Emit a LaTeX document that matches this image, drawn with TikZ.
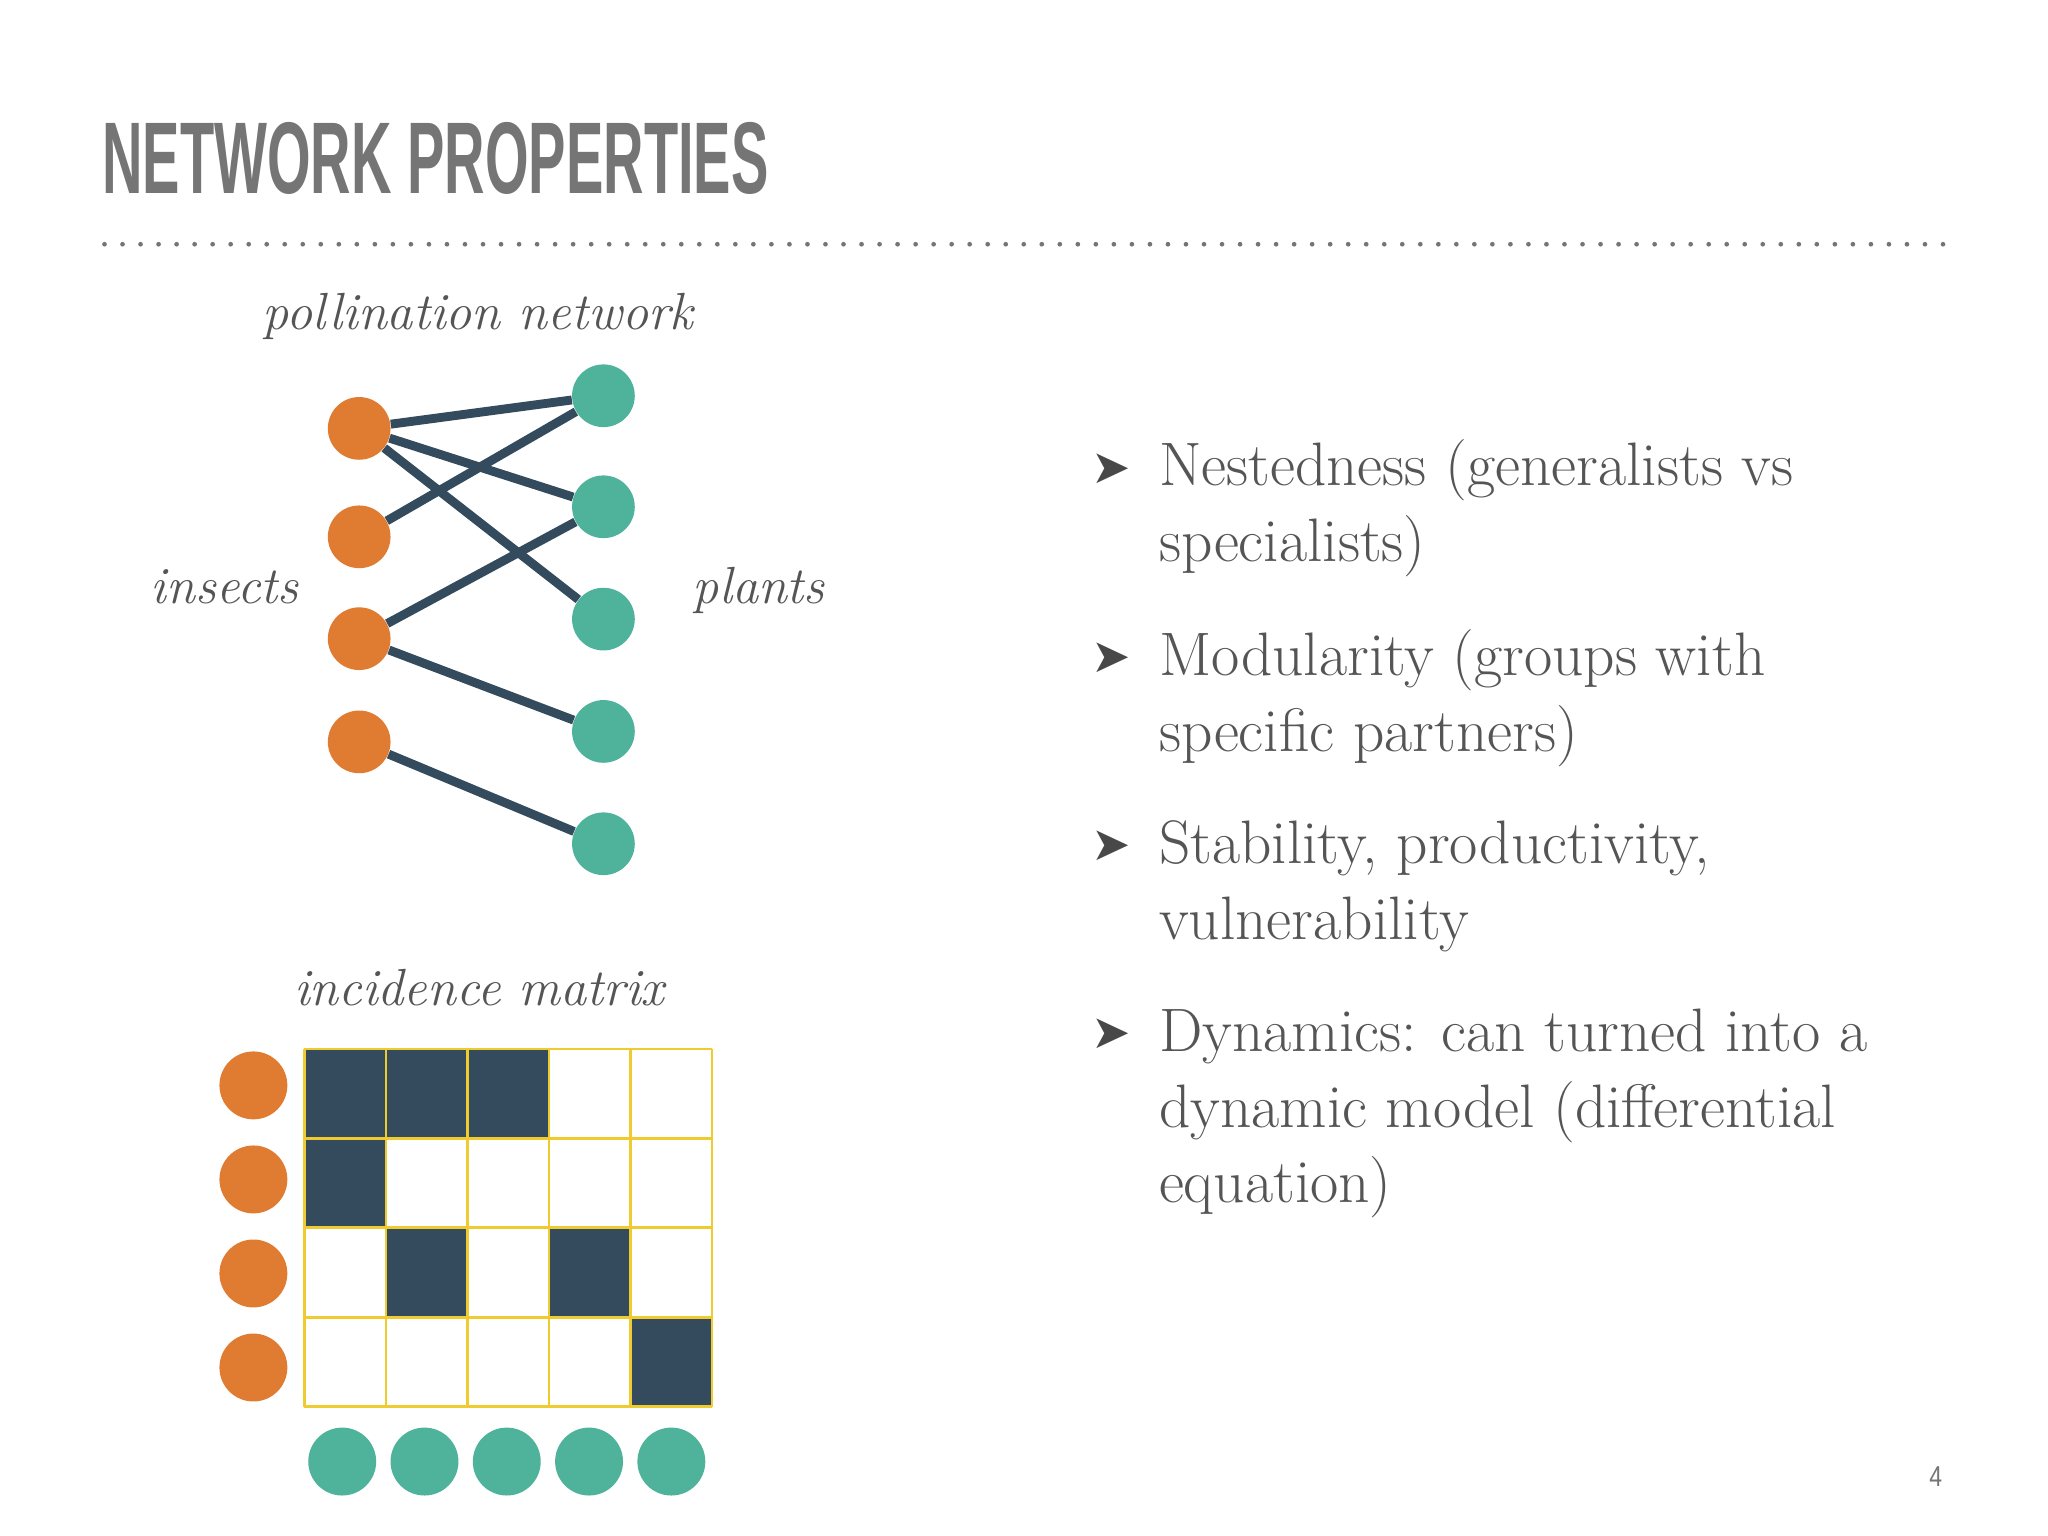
\documentclass[tikz,border=0pt]{standalone}
\usepackage{fontspec}
\usepackage{xcolor}
\usepackage{tikz}
\usetikzlibrary{positioning,calc}
\newfontfamily\titlefont{Liberation Sans}[FakeStretch=0.55]
\newfontfamily\numfont{Liberation Sans}[FakeStretch=0.8]
\newfontfamily\symfont{DejaVu Sans}
\definecolor{insectcol}{RGB}{224,123,50}
\definecolor{plantcol}{RGB}{79,179,156}
\definecolor{linkcol}{RGB}{52,75,93}
\definecolor{gridcol}{RGB}{240,203,48}
\definecolor{headcol}{RGB}{117,117,117}
\definecolor{bodycol}{RGB}{85,85,85}

\begin{document}
\begin{tikzpicture}[x=0.5pt,y=0.5pt,
    bug/.style={circle,fill=insectcol,inner sep=0pt,minimum size=24pt},
    flower/.style={circle,fill=plantcol,inner sep=0pt,minimum size=24pt},
    bigbug/.style={bug,minimum size=26pt},
    bigflower/.style={flower,minimum size=26pt},
    linkline/.style={draw=linkcol,line width=3.4pt},
    lbl/.style={font=\fontsize{20}{24}\selectfont\itshape,text=bodycol,inner sep=0pt,anchor=base},
    arrowmark/.style={font=\symfont\fontsize{18}{20}\selectfont,text=bodycol!85!black,inner sep=0pt,anchor=base west},
    itemtext/.style={font=\fontsize{23.5}{29}\selectfont,text=bodycol,align=left,inner sep=0pt,anchor=base west}]
    % Fondo y marco de la diapositiva.
    \fill[white] (0,0) rectangle (1568,-1176);
    \useasboundingbox (0,0) rectangle (1568,-1176);

    % Encabezado.
    \node[anchor=base west,inner sep=0pt,text=headcol,font=\titlefont\bfseries\fontsize{39}{40}\selectfont] (title) at (78,-148) {NETWORK PROPERTIES};
    \draw[headcol,line width=1.8pt,line cap=round,dash pattern=on 0pt off 6.9pt] (80,-187) -- (1490,-187);

    % Red de polinizacion.
    \node[lbl] (pollhead) at (366,-252) {pollination network};
    \foreach \i/\y in {1/328,2/411,3/489,4/568}{
      \node[bug] (o\i) at (275,-\y) {};
    }
    \foreach \i/\y in {1/303,2/388,3/474,4/560,5/646}{
      \node[flower] (p\i) at (462,-\y) {};
    }
    \foreach \a/\b in {o1/p1,o1/p2,o1/p3,o2/p1,o3/p2,o3/p4,o4/p5}{
      \draw[linkline] (\a) -- (\b);
    }
    \node[lbl] (insects) at (172,-462) {insects};
    \node[lbl] (plants) at (581,-462) {plants};

    % Matriz de incidencia.
    \node[lbl] (mathead) at (367,-770) {incidence matrix};
    \foreach \r/\c in {1/1,1/2,1/3,2/1,3/2,3/4,4/5}{
      \pgfmathsetmacro{\xa}{233+62.4*(\c-1)}
      \pgfmathsetmacro{\ya}{-803-68.5*(\r-1)}
      \fill[linkcol] (\xa,\ya) rectangle ++(62.4,-68.5);
    }
    \foreach \c in {0,...,5}{
      \pgfmathsetmacro{\xx}{233+62.4*\c}
      \draw[gridcol,line width=1pt] (\xx,-803) -- (\xx,-1077);
    }
    \foreach \r in {0,...,4}{
      \pgfmathsetmacro{\yy}{-803-68.5*\r}
      \draw[gridcol,line width=1pt] (233,\yy) -- (545,\yy);
    }
    \foreach \i in {1,...,4}{
      \pgfmathsetmacro{\yy}{-831-72*(\i-1)}
      \node[bigbug] (row\i) at (194,\yy) {};
    }
    \foreach \i in {1,...,5}{
      \pgfmathsetmacro{\xx}{262+63*(\i-1)}
      \node[bigflower] (col\i) at (\xx,-1119) {};
    }

    % Lista de propiedades (el ancla base cae en la ultima linea).
    \node[arrowmark] (m1) at (835,-370) {➤};
    \node[itemtext] (t1) at (887,-430) {Nestedness (generalists vs\\specialists)};
    \node[arrowmark] (m2) at (835,-515) {➤};
    \node[itemtext] (t2) at (887,-575) {Modularity (groups with\\specific partners)};
    \node[arrowmark] (m3) at (835,-659) {➤};
    \node[itemtext] (t3) at (887,-719) {Stability, productivity,\\vulnerability};
    \node[arrowmark] (m4) at (835,-803) {➤};
    \node[itemtext] (t4) at (887,-921) {Dynamics: can turned into a\\dynamic model (differential\\equation)};

    % Numero de pagina.
    \node[anchor=base,inner sep=0pt,text=headcol,font=\numfont\fontsize{11}{12}\selectfont] (pagenum) at (1482,-1138) {4};
  \end{tikzpicture}
\end{document}
